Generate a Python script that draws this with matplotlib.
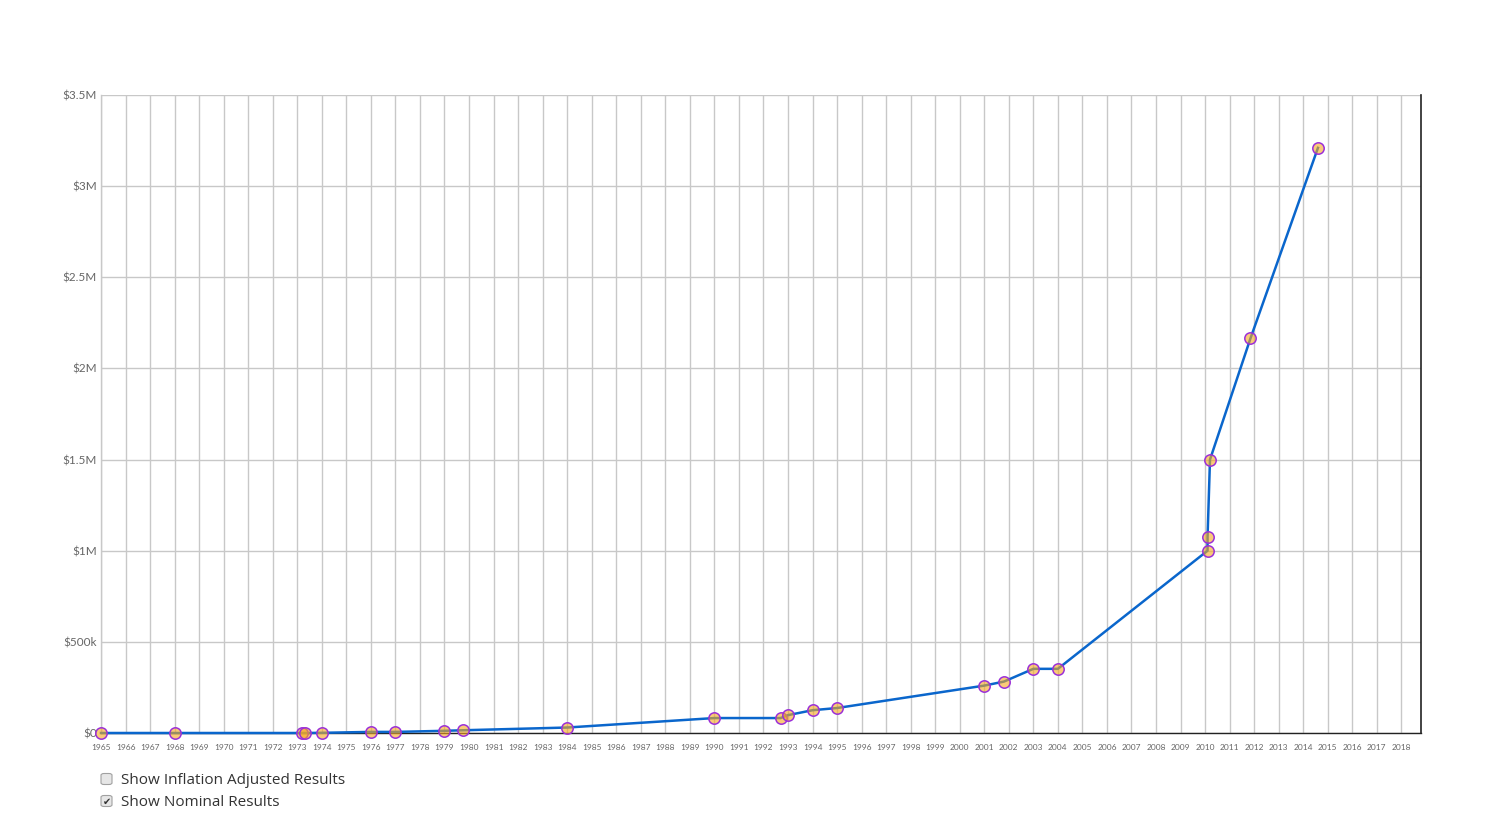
import matplotlib
matplotlib.use("Agg")
import matplotlib.pyplot as plt
from matplotlib.patches import FancyBboxPatch
from matplotlib.ticker import FixedLocator

# Data (fractional year, nominal value in $)
years = [1965.0, 1968.0, 1973.2, 1973.3, 1974.0, 1976.0, 1977.0, 1979.0, 1979.75,
         1984.0, 1990.0, 1992.7, 1993.0, 1994.0, 1995.0, 2001.0, 2001.8, 2003.0,
         2004.0, 2010.1, 2010.1, 2010.2, 2011.85, 2014.6]
values = [0, 0, 0, 0, 1000, 6000, 6000, 12000, 15000,
          30000, 82000, 82000, 98000, 125000, 137000, 260000, 282000, 352000,
          352000, 1000000, 1075000, 1500000, 2165000, 3210000]

x_ticks = list(range(1965, 2019))
y_ticks = [0, 500000, 1000000, 1500000, 2000000, 2500000, 3000000, 3500000]
y_labels = ["$0", "$500k", "$1M", "$1.5M", "$2M", "$2.5M", "$3M", "$3.5M"]
checkbox_labels = ["Show Inflation Adjusted Results", "Show Nominal Results"]
checkbox_states = [False, True]

fig = plt.figure(figsize=(15.11, 8.39), dpi=100)
ax = fig.add_axes([101/1511, 1 - 733/839, (1421-101)/1511, (733-95)/839])

ax.set_xlim(1965, 2018.8)
ax.set_ylim(0, 3500000)

ax.plot(years, values, color="#0a66cc", lw=1.8, zorder=3, solid_joinstyle="round",
        clip_on=False)
ax.plot(years, values, ls="none", marker="o", markersize=8.2,
        markerfacecolor=(0.97, 0.66, 0.12, 0.6), markeredgecolor="#9b30d8",
        markeredgewidth=1.1, zorder=4, clip_on=False)

ax.xaxis.set_major_locator(FixedLocator(x_ticks))
ax.set_xticklabels([str(y) for y in x_ticks])
ax.set_yticks(y_ticks)
ax.set_yticklabels(y_labels)
ax.grid(True, color="#c8c8c8", lw=1, zorder=0)
ax.set_axisbelow(True)

ax.tick_params(axis="x", length=0, pad=8, labelsize=6, labelcolor="#666666")
ax.tick_params(axis="y", length=0, pad=3, labelsize=8.5, labelcolor="#666666")
for lab in ax.get_xticklabels() + ax.get_yticklabels():
    lab.set_family("Lato")

ax.spines["top"].set_visible(False)
ax.spines["left"].set_color("#c8c8c8")
ax.spines["left"].set_linewidth(1)
ax.spines["bottom"].set_color("#222222")
ax.spines["bottom"].set_linewidth(1)
ax.spines["bottom"].set_zorder(2.5)
ax.spines["right"].set_color("#222222")
ax.spines["right"].set_linewidth(1.2)

# Checkboxes
W, H = 1511, 839
for i, (lab, st) in enumerate(zip(checkbox_labels, checkbox_states)):
    cy = 779 + 22 * i
    box = FancyBboxPatch(((101)/W, 1 - (cy + 5.5)/H), 11/W, 11/H,
                         boxstyle="round,pad=0,rounding_size=0.002",
                         transform=fig.transFigure,
                         facecolor="#e6e6e6", edgecolor="#a0a0a0", lw=0.8)
    fig.patches.append(box)
    if st:
        fig.text(106.5/W, 1 - (cy + 0.5)/H, "\u2714", fontsize=7, color="#333333",
                 ha="center", va="center", family="DejaVu Sans")
    fig.text(121/W, 1 - (cy + 1.5)/H, lab, fontsize=11, color="#333333",
             ha="left", va="center", family="Open Sans")

fig.savefig("out.png", dpi=100)
